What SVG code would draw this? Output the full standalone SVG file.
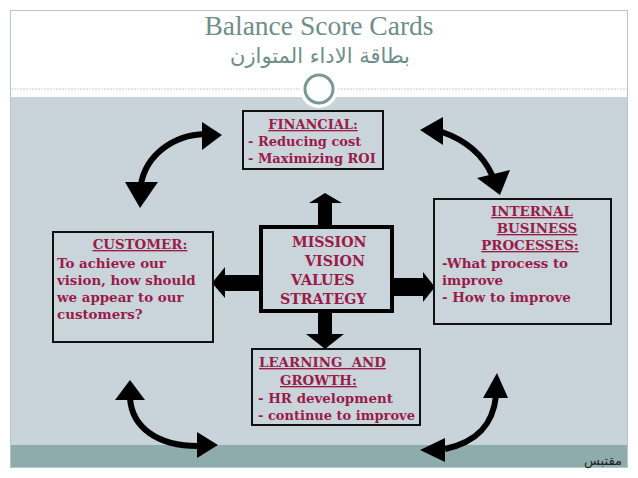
<svg xmlns="http://www.w3.org/2000/svg" width="638" height="478" viewBox="0 0 638 478">
<defs>
<style>
.t{font-family:"DejaVu Serif","Liberation Serif",serif;font-weight:bold;font-size:13.4px;fill:#9a1b48}
.f{font-size:13px}
.c{font-size:14.2px}
.u{text-decoration:underline}
.box{fill:#c9d4db;stroke:#111;stroke-width:2}
.curve{fill:none;stroke:#000;stroke-width:6}
.blk{fill:#000}
</style>
</defs>
<rect x="0" y="0" width="638" height="478" fill="#fff"/>
<rect x="10" y="97" width="618" height="348" fill="#c9d4da"/>
<rect x="10" y="445" width="618" height="23" fill="#8eacab"/>
<rect x="10.5" y="10.5" width="617" height="457" fill="none" stroke="#b8c6ca" stroke-width="1"/>
<line x1="11" y1="89" x2="627" y2="89" stroke="#c4cccc" stroke-width="1" stroke-dasharray="2,1"/>
<circle cx="319" cy="89" r="19" fill="#fff"/>
<circle cx="319" cy="89" r="14" fill="#fff" stroke="#7a9896" stroke-width="3"/>
<text x="319" y="35" text-anchor="middle" font-family="Liberation Serif,serif" font-size="27.5" fill="#6f8d8a">Balance Score Cards</text>
<text x="320" y="63" text-anchor="middle" font-family="DejaVu Sans,Noto Sans,sans-serif" font-size="21" fill="#6f8d8a">بطاقة الاداء المتوازن</text>
<text x="622" y="465" text-anchor="end" font-family="DejaVu Sans,Noto Sans,sans-serif" font-size="13" fill="#222">مقتبس</text>

<g id="connectors">
<polygon class="blk" points="318,226 318,203 309,203 325,193 342,203 332,203 332,226"/>
<polygon class="blk" points="318,311 318,334 306,334 325,349 344,334 332,334 332,311"/>
<polygon class="blk" points="260,275 225,275 225,267 212,283 225,298 225,291 260,291"/>
<polygon class="blk" points="393,278 423,278 423,272 435,287 423,302 423,296 393,296"/>
<path class="curve" d="M205,134 C172,135 146,156 141,184"/>
<polygon class="blk" points="202,122 222,135 202,150"/>
<polygon class="blk" points="125,182 158,182 140,208"/>
<path class="curve" d="M442,132 C465,140 483,155 492,175"/>
<polygon class="blk" points="443,117 420,130 443,145"/>
<polygon class="blk" points="477,178 510,170 500,195"/>
<path class="curve" d="M130,398 C132,428 158,446 198,446"/>
<polygon class="blk" points="115,400 145,400 130,380"/>
<polygon class="blk" points="197,432 218,445 197,458"/>
<path class="curve" d="M496,396 C493,424 478,442 445,449"/>
<polygon class="blk" points="483,398 508,398 497,373"/>
<polygon class="blk" points="445,438 420,450 445,462"/>
</g>

<g id="financial">
<rect class="box" x="243" y="111" width="140" height="58"/>
<text class="t f u" x="313" y="129" text-anchor="middle">FINANCIAL:</text>
<text class="t f" x="248" y="146">- Reducing cost</text>
<text class="t f" x="248" y="163">- Maximizing ROI</text>
</g>

<g id="customer">
<rect class="box" x="53" y="232" width="160" height="110"/>
<text class="t u" x="140" y="249" text-anchor="middle">CUSTOMER:</text>
<text class="t" x="57" y="268">To achieve our</text>
<text class="t" x="57" y="285">vision, how should</text>
<text class="t" x="57" y="302">we appear to our</text>
<text class="t" x="57" y="319">customers?</text>
</g>

<g id="internal">
<rect class="box" x="434" y="199" width="177" height="125"/>
<text class="t u" x="532" y="216" text-anchor="middle">INTERNAL</text>
<text class="t u" x="537" y="233" text-anchor="middle">BUSINESS</text>
<text class="t u" x="530" y="250" text-anchor="middle">PROCESSES:</text>
<text class="t" x="442" y="268">-What process to</text>
<text class="t" x="442" y="285">improve</text>
<text class="t" x="442" y="302">- How to improve</text>
</g>

<g id="center">
<rect x="261" y="227" width="131" height="84" fill="#c9d4db" stroke="#000" stroke-width="4"/>
<text class="t c" x="292" y="247">MISSION</text>
<text class="t c" x="305" y="266">VISION</text>
<text class="t c" x="291" y="285">VALUES</text>
<text class="t c" x="280" y="304">STRATEGY</text>
</g>

<g id="learning">
<rect class="box" x="252" y="349" width="168" height="76"/>
<text class="t u" x="259" y="367" xml:space="preserve">LEARNING  AND</text>
<text class="t u" x="280" y="385">GROWTH:</text>
<text class="t" x="258" y="403">- HR development</text>
<text class="t" x="258" y="420" font-size="13" style="font-size:13px">- continue to improve</text>
</g>
</svg>
